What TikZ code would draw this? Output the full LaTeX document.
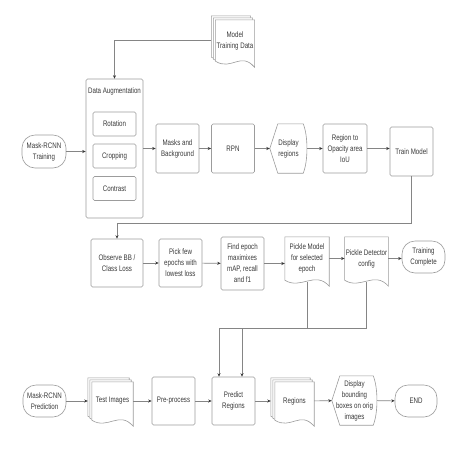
\documentclass[tikz,border=0pt]{standalone}
\usepackage{fontspec}
\newfontfamily\chartfont{Liberation Sans}[FakeStretch=0.77]
\usetikzlibrary{arrows.meta,calc,backgrounds}
\definecolor{boxline}{HTML}{9C9C9C}
\definecolor{wireline}{HTML}{858585}
\definecolor{inkgray}{HTML}{3A3A3A}
\newcommand{\docshape}[2]{%
  \draw[boxline, fill=white, line width=0.6pt] ($(#1.north west)+(-#2,-#2)$) -- ($(#1.north east)+(-#2,-#2)$) -- ($(#1.south east)+(-#2,6-#2)$) .. controls +(-14,-16) and +(16,10) .. ($(#1.south west)+(-#2,-#2)$) -- cycle;}
\newcommand{\dispshape}[1]{%
  \draw[boxline, line width=0.6pt] (#1.west) -- ($(#1.north west)+(8,0)$) -- ($(#1.north east)+(-4,0)$) .. controls +(5,12) and +(5,-12) .. ($(#1.south east)+(-4,0)$) -- ($(#1.south west)+(8,0)$) -- cycle;}
\begin{document}
\begin{tikzpicture}[x=1pt, y=-1pt, every node/.style={font=\chartfont\fontsize{8}{11}\selectfont, text=inkgray, align=center, inner sep=1pt},
        procbox/.style={draw=boxline, line width=0.6pt, rounded corners=1.5pt, minimum width=43pt, minimum height=49pt},
        termbox/.style={draw=boxline, line width=0.6pt, rounded corners=13pt, minimum width=43pt, minimum height=32pt},
        docbox/.style={minimum width=40pt, minimum height=38pt},
        dispbox/.style={minimum height=49pt},
        wire/.style={draw=wireline, line width=0.6pt, -{Stealth[length=3.5pt, width=3pt, color=inkgray]}}]
        \useasboundingbox (0,0) rectangle (474,448);
        \node[docbox, minimum width=38pt, minimum height=41pt] (mtd) at (235,40.5) {Model\\Training Data};
        \node[termbox, minimum width=44pt, minimum height=33pt] (train) at (44,151.5) {Mask-RCNN\\Training};
        \node[draw=boxline, line width=0.6pt, rounded corners=1.5pt, minimum width=57pt, minimum height=139pt] (aug) at (114.5,148.5) {};
        \node (augt) at (114.5,91) {Data Augmentation};
        \node[procbox, minimum height=24pt] (rot) at (114.5,124) {Rotation};
        \node[procbox, minimum height=24pt] (crop) at (114.5,156) {Cropping};
        \node[procbox, minimum height=24pt] (contr) at (114.5,188.5) {Contrast};
        \node[procbox] (masks) at (177.5,148.5) {Masks and\\Background};
        \node[procbox] (rpn) at (233,148.5) {RPN};
        \node[dispbox, minimum width=37pt] (disp) at (288.5,148.5) {Display\\regions};
        \node[procbox, minimum width=44pt] (iou) at (345,148.5) {Region to\\Opacity area\\IoU};
        \node[procbox] (trainm) at (411.5,151.5) {Train Model};
        \node[procbox, minimum width=52pt, minimum height=48pt] (obs) at (117,263) {Observe BB /\\Class Loss};
        \node[procbox, minimum height=48pt] (pick) at (180.5,263) {Pick few\\epochs with\\lowest loss};
        \node[procbox, minimum height=53pt] (find) at (242.5,263.5) {Find epoch\\maximixes\\mAP, recall\\and f1};
        \node[docbox, minimum width=44pt, minimum height=43pt] (pkm) at (307,258.5) {Pickle Model\\for selected\\epoch};
        \node[docbox, minimum width=43pt, minimum height=43pt] (pkd) at (366.5,258.5) {Pickle Detector\\config};
        \node[termbox] (tc) at (423.5,257) {Training\\Complete};
        \node[termbox] (pred) at (44.5,401) {Mask-RCNN\\Prediction};
        \node[docbox, minimum width=41pt] (tst) at (112.5,401) {Test Images};
        \node[procbox, minimum height=48pt] (pre) at (173.5,401) {Pre-process};
        \node[procbox, minimum height=48pt] (prd) at (233.5,401) {Predict\\Regions};
        \node[docbox, minimum width=39pt] (reg) at (294.5,401) {Regions};
        \node[dispbox, minimum width=45pt] (dbb) at (354.5,400.5) {Display\\bounding\\boxes on orig\\images};
        \node[termbox, minimum width=42pt] (fin) at (416,401) {END};
        \begin{scope}[on background layer]
            \fill[white] (0,0) rectangle (474,448);
            \foreach \n in {mtd,tst,reg} {
                \foreach \o in {4,2,0} {\docshape{\n}{\o}}
            }
            \docshape{pkm}{0}
            \docshape{pkd}{0}
            \dispshape{disp}
            \dispshape{dbb}
        \end{scope}
        \draw[wire, shorten <=4pt] (mtd.west) -| (aug.north);
        \draw[wire] (train.east) -- (train.east -| aug.west);
        \draw[wire] (aug) -- (masks);
        \draw[wire] (masks) -- (rpn);
        \draw[wire] (rpn) -- (disp);
        \draw[wire] (disp) -- (iou);
        \draw[wire] (iou) -- (iou -| trainm.west);
        \draw[wire] (trainm.south) -- ++(0,47) -| (obs.north);
        \draw[wire] (obs) -- (pick);
        \draw[wire] (pick) -- (find);
        \draw[wire] (find.east) -- (find.east -| pkm.west);
        \draw[wire] (pkm) -- (pkd);
        \draw[wire] (pkd.east) -- (pkd.east -| tc.west);
        \draw[wire, shorten <=2pt] (pkm.south) -- ++(0,48) -| ($(prd.north)+(-14.5,0)$);
        \draw[wire, shorten <=2pt] (pkd.south) -- ++(0,48) -| ($(prd.north)+(8.5,0)$);
        \draw[wire, shorten >=4pt] (pred) -- (tst);
        \draw[wire] (tst) -- (pre);
        \draw[wire] (pre) -- (prd);
        \draw[wire, shorten >=4pt] (prd) -- (reg);
        \draw[wire] (reg) -- (dbb);
        \draw[wire] (dbb) -- (fin);
\end{tikzpicture}
\end{document}
